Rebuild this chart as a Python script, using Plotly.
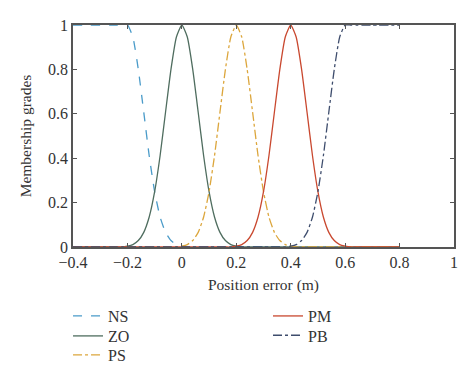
import plotly.graph_objects as go

# x grid (m)
x_vals = [round(-0.4 + 0.02 * i, 2) for i in range(61)]

# membership grades (step 0.02 from -0.4 to 0.8)
ns = [1]*11 + [0.946, 0.80, 0.607, 0.411, 0.249, 0.135, 0.066, 0.029, 0.011, 0.004] + [0]*40
zo = [0]*10 + [0.004, 0.011, 0.029, 0.066, 0.135, 0.249, 0.411, 0.607, 0.80, 0.946, 1,
               0.946, 0.80, 0.607, 0.411, 0.249, 0.135, 0.066, 0.029, 0.011, 0.004] + [0]*30
ps = [0]*20 + [0.004, 0.011, 0.029, 0.066, 0.135, 0.249, 0.411, 0.607, 0.80, 0.946, 1,
               0.946, 0.80, 0.607, 0.411, 0.249, 0.135, 0.066, 0.029, 0.011, 0.004] + [0]*20
pm = [0]*30 + [0.004, 0.011, 0.029, 0.066, 0.135, 0.249, 0.411, 0.607, 0.80, 0.946, 1,
               0.946, 0.80, 0.607, 0.411, 0.249, 0.135, 0.066, 0.029, 0.011, 0.004] + [0]*10
pb = [0]*40 + [0.004, 0.011, 0.029, 0.066, 0.135, 0.249, 0.411, 0.607, 0.80, 0.946] + [1]*11

names = ["NS", "ZO", "PS", "PM", "PB"]
series = [ns, zo, ps, pm, pb]
colors = ["#4a9bc9", "#4f6d5f", "#dca63c", "#c9482f", "#3e4d6d"]
dashes = ["dash", "solid", "dashdot", "solid", "dashdot"]
legend_ids = ["legend", "legend2", "legend3", "legend4", "legend5"]

xticks = [-0.4, -0.2, 0, 0.2, 0.4, 0.6, 0.8, 1]
xticklabels = ["\u22120.4", "\u22120.2", "0", "0.2", "0.4", "0.6", "0.8", "1"]
yticks = [0, 0.2, 0.4, 0.6, 0.8, 1]
yticklabels = ["0", "0.2", "0.4", "0.6", "0.8", "1"]

fig = go.Figure()
for name, ys, c, d, lg in zip(names, series, colors, dashes, legend_ids):
    fig.add_trace(go.Scatter(x=x_vals, y=ys, mode="lines", name=name,
                             line=dict(color=c, width=1.3, dash=d, shape="spline", smoothing=0.5),
                             legend=lg))

fam = "Liberation Serif, Times New Roman, serif"
tickfont = dict(family=fam, size=16, color="#333")
titlefont = dict(family=fam, size=15.5, color="#333")
legfont = dict(family=fam, size=16, color="#333")
axis_common = dict(showgrid=False, zeroline=False, showline=True, linecolor="#555",
                   linewidth=1.5, mirror="ticks", ticks="inside", ticklen=4,
                   tickcolor="#555", tickfont=tickfont, automargin=False)

# legend anchor positions (container fractions): two columns below the axes
leg_pos = {
    "legend":  (0.1435, 0.2110),
    "legend2": (0.1435, 0.1583),
    "legend3": (0.1435, 0.1082),
    "legend4": (0.5654, 0.2110),
    "legend5": (0.5654, 0.1600),
}

layout_legends = {}
for lid, (lx, ly) in leg_pos.items():
    layout_legends[lid] = dict(x=lx, y=ly, xref="container", yref="container",
                               xanchor="left", yanchor="top", orientation="h",
                               bgcolor="rgba(0,0,0,0)", font=legfont, itemwidth=30)

fig.update_layout(
    width=474, height=379,
    margin=dict(l=73, r=20, t=25, b=132),
    paper_bgcolor="white", plot_bgcolor="white",
    font=tickfont,
    xaxis=dict(range=[-0.4, 1], tickvals=xticks, ticktext=xticklabels,
               title=dict(text="Position error (m)", font=titlefont, standoff=9), **axis_common),
    yaxis=dict(range=[0, 1], tickvals=yticks, ticktext=yticklabels,
               title=dict(text="Membership grades", font=titlefont, standoff=13), **axis_common),
    showlegend=True,
    **layout_legends,
)

fig.write_html("out.html", config={"displayModeBar": False},
               post_script="document.body.style.margin='0';document.body.style.padding='0';")
